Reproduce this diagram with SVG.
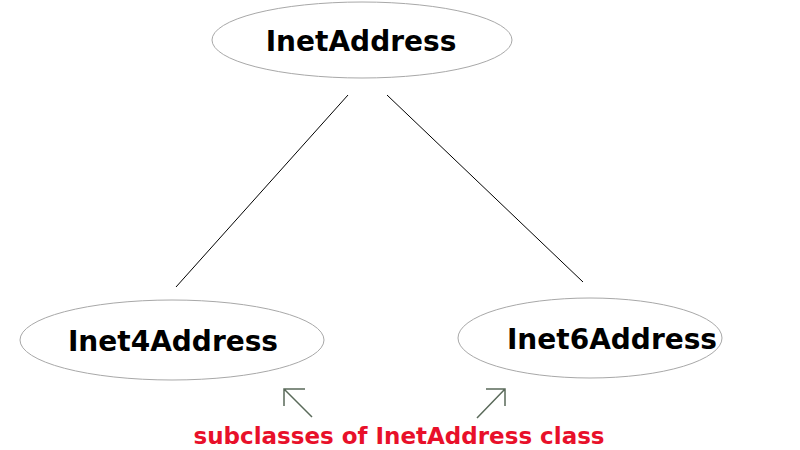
<svg xmlns="http://www.w3.org/2000/svg" width="800" height="450" viewBox="0 0 800 450">
<style>
.n{fill:#fff;stroke:#a8a8a8;stroke-width:1}
.t{font-family:"DejaVu Sans",sans-serif;font-weight:bold;font-size:28px;fill:#000;text-anchor:middle}
.c{stroke:#000;stroke-width:1;fill:none}
.a{stroke:#5a6a5a;stroke-width:1.5;fill:none}
</style>
<rect width="800" height="450" fill="#fff"/>
<g id="connectors">
<line class="c" x1="348" y1="95" x2="176" y2="287"/>
<line class="c" x1="387" y1="95" x2="583" y2="282"/>
<path class="a" d="M312,417 L284,389 M305,389 L284,389 L284,406"/>
<path class="a" d="M477,418 L505,389 M486,389 L505,389 L505,406"/>
</g>
<g id="inetaddress"><ellipse class="n" cx="362" cy="40" rx="150" ry="38"/><text class="t" x="361" y="51">InetAddress</text></g>
<g id="inet4"><ellipse class="n" cx="172" cy="340" rx="152" ry="40"/><text class="t" x="173" y="351">Inet4Address</text></g>
<g id="inet6"><ellipse class="n" cx="590" cy="338" rx="132" ry="40"/><text class="t" x="612" y="349">Inet6Address</text></g>
<text x="399" y="444" style="font-family:'DejaVu Sans',sans-serif;font-weight:bold;font-size:23px;fill:#e8102a;text-anchor:middle">subclasses of InetAddress class</text>
</svg>
